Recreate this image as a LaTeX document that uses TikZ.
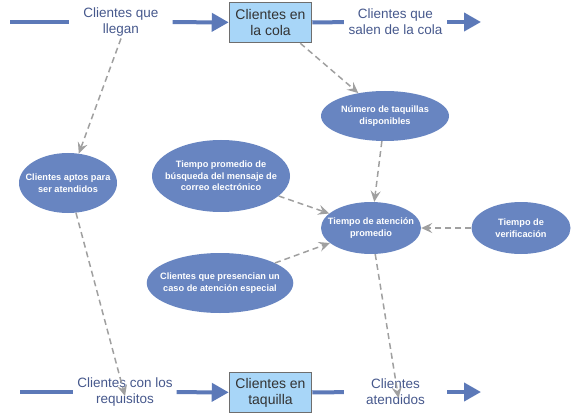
\documentclass[tikz,border=0pt]{standalone}
\usepackage{fontspec}
\setmainfont{Liberation Sans}
\usetikzlibrary{positioning, arrows.meta, shapes.geometric}

\definecolor{flowblue}{RGB}{92,121,184}
\definecolor{ellblue}{RGB}{104,133,193}
\definecolor{boxblue}{RGB}{168,214,248}
\definecolor{boxedge}{RGB}{110,110,110}
\definecolor{lbltext}{RGB}{70,88,140}
\definecolor{linkgray}{RGB}{160,160,160}

\begin{document}
\begin{tikzpicture}[
    x=1pt, y=-1pt,
    stock/.style={draw=boxedge, line width=1.5pt, fill=boxblue, minimum width=82pt, minimum height=40pt,
        align=center, inner sep=1pt, font=\fontsize{14}{16}\selectfont, text=black!80},
    rate/.style={align=center, minimum width=103pt, inner xsep=0pt, inner ysep=2pt,
        font=\fontsize{13.5}{16}\selectfont, text=lbltext},
    aux/.style={ellipse, fill=ellblue, text=white, align=center, inner sep=-8pt,
        font=\bfseries\fontsize{9.2}{11.5}\selectfont},
    pipe/.style={draw=flowblue, line width=4pt},
    pipe_end/.style={pipe, -{Triangle[length=17pt, width=18pt]}},
    link/.style={draw=linkgray, line width=1.5pt, dash pattern=on 6pt off 4pt,
        -{Stealth[length=11pt, width=10pt, inset=4pt]}}
]
    \useasboundingbox (0,0) rectangle (572,414);

    % Stocks
    \node[stock] (cola) at (270.5,22.5) {Clientes en\\la cola};
    \node[stock] (taquilla) at (270.5,392.5) {Clientes en\\taquilla};

    % Flow labels
    \node[rate] (llegan) at (121,22) {Clientes que\\llegan};
    \node[rate] (salen) at (395.5,22) {Clientes que\\salen de la cola};
    \node[rate] (requisitos) at (125,392) {Clientes con los\\requisitos};
    \node[rate] (atendidos) at (395.5,392) {Clientes\\atendidos};

    % Flow ends
    \coordinate (in_top) at (10,22);
    \coordinate (out_top) at (481,22);
    \coordinate (in_bot) at (20,392);
    \coordinate (out_bot) at (481,392);

    % Auxiliaries
    \node[aux, minimum width=98pt, minimum height=60pt] (aptos) at (68,183) {Clientes aptos para\\ser atendidos};
    \node[aux, minimum width=138pt, minimum height=72pt] (busqueda) at (221,176) {Tiempo promedio de\\búsqueda del mensaje de\\correo electrónico};
    \node[aux, minimum width=140pt, minimum height=60pt] (especial) at (220,283) {Clientes que presencian un\\caso de atención especial};
    \node[aux, minimum width=128pt, minimum height=50pt] (taquillas) at (385,116) {Número de taquillas\\disponibles};
    \node[aux, minimum width=100pt, minimum height=52pt] (atencion) at (371,228) {Tiempo de atención\\promedio};
    \node[aux, minimum width=99pt, minimum height=52pt] (verif) at (521,228) {Tiempo de\\verificación};

    % Flows, top row
    \draw[pipe] (in_top) -- (llegan);
    \draw[pipe_end] (llegan) -- (cola);
    \draw[pipe] (cola) -- (salen);
    \draw[pipe_end] (salen) -- (out_top);

    % Flows, bottom row
    \draw[pipe] (in_bot) -- (requisitos);
    \draw[pipe_end] (requisitos) -- (taquilla);
    \draw[pipe] (taquilla) -- (atendidos);
    \draw[pipe_end] (atendidos) -- (out_bot);

    % Links
    \draw[link] (llegan.south) -- (aptos);
    \draw[link] ([xshift=-12pt]cola.south east) -- (taquillas);
    \draw[link] (taquillas) -- (atencion);
    \draw[link] (busqueda) -- (atencion);
    \draw[link] (especial) -- (atencion);
    \draw[link] (verif) -- (atencion);
    \draw[link] (aptos) -- ([yshift=-4pt]requisitos.center);
    \draw[link] (atencion) -- ([xshift=3pt,yshift=-6pt]atendidos.center);

\end{tikzpicture}
\end{document}
